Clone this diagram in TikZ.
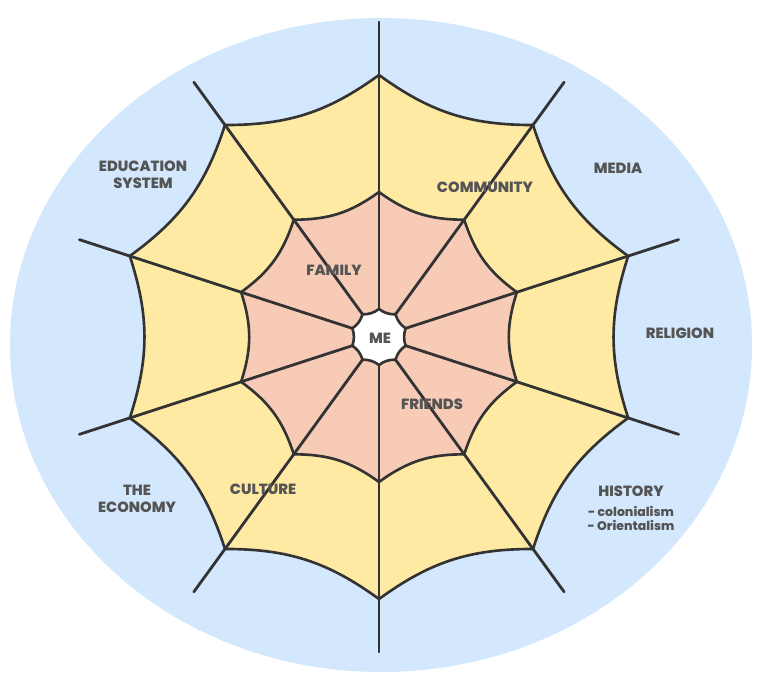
\documentclass[tikz,border=0pt]{standalone}
\usepackage{fontspec}
\setmainfont{Poppins}[BoldFont={Poppins ExtraBold}]
\usepackage{tikz}
\usetikzlibrary{positioning}
\definecolor{skyblue}{HTML}{D3E7FD}
\definecolor{webyellow}{HTML}{FFEAA3}
\definecolor{webpink}{HTML}{F8CBB6}
\definecolor{threadcol}{HTML}{333333}
\definecolor{labelgray}{HTML}{545454}

\begin{document}
\begin{tikzpicture}[
font=\fontsize{8.4}{9.7}\selectfont\bfseries,
thread/.style={draw=threadcol, line width=1.5pt, line join=round},
spoke/.style={threadcol, line width=1.6pt, line cap=round},
lbl/.style={text=labelgray, align=center},
sub/.style={text=labelgray, align=center, font=\fontsize{7.1}{8}\selectfont\bfseries}
]
\useasboundingbox (-7.58,-6.74) rectangle (7.78,6.74);

% Background
\fill[skyblue] (0.04,-0.16) ellipse [x radius=7.42, y radius=6.54];

% Points on the ten spokes
\foreach \i in {0,...,9}{
  \coordinate (c\i) at ({18+36*\i}:0.56);
  \coordinate (m\i) at ({18+36*\i}:2.9);
  \coordinate (o\i) at ({18+36*\i}:5.24);
  \coordinate (e\i) at ({18+36*\i}:6.3);
}

% Outer and middle rings
\path[thread, fill=webyellow] (o0)
  \foreach \i in {1,...,9}{ to[bend left=18] (o\i) } to[bend left=18] (o0) -- cycle;
\path[thread, fill=webpink] (m0)
  \foreach \i in {1,...,9}{ to[bend left=18] (m\i) } to[bend left=18] (m0) -- cycle;

% Spokes
\foreach \i in {0,...,9}
  \draw[spoke] (c\i) -- (e\i);

% Centre
\path[thread, fill=white] (c0)
  \foreach \i in {1,...,9}{ to[bend left=18] (c\i) } to[bend left=18] (c0) -- cycle;
\node[lbl] (me) at (0.02,-0.02) {ME};

% Labels
\node[lbl] (family) at (-0.90,1.34) {FAMILY};
\node[lbl] (friends) at (1.06,-1.34) {FRIENDS};
\node[lbl] (community) at (2.12,3.00) {COMMUNITY};
\node[lbl] (culture) at (-2.32,-3.04) {CULTURE};
\node[lbl] (media) at (4.78,3.38) {MEDIA};
\node[lbl] (religion) at (6.02,0.08) {RELIGION};
\node[lbl] (education) at (-4.72,3.24) {EDUCATION\\SYSTEM};
\node[lbl] (economy) at (-4.84,-3.24) {THE\\ECONOMY};
\node[lbl] (history) at (5.04,-3.08) {HISTORY};
\node[sub, below=-1.5pt of history] (causes) {- colonialism\\- Orientalism};

\end{tikzpicture}
\end{document}
